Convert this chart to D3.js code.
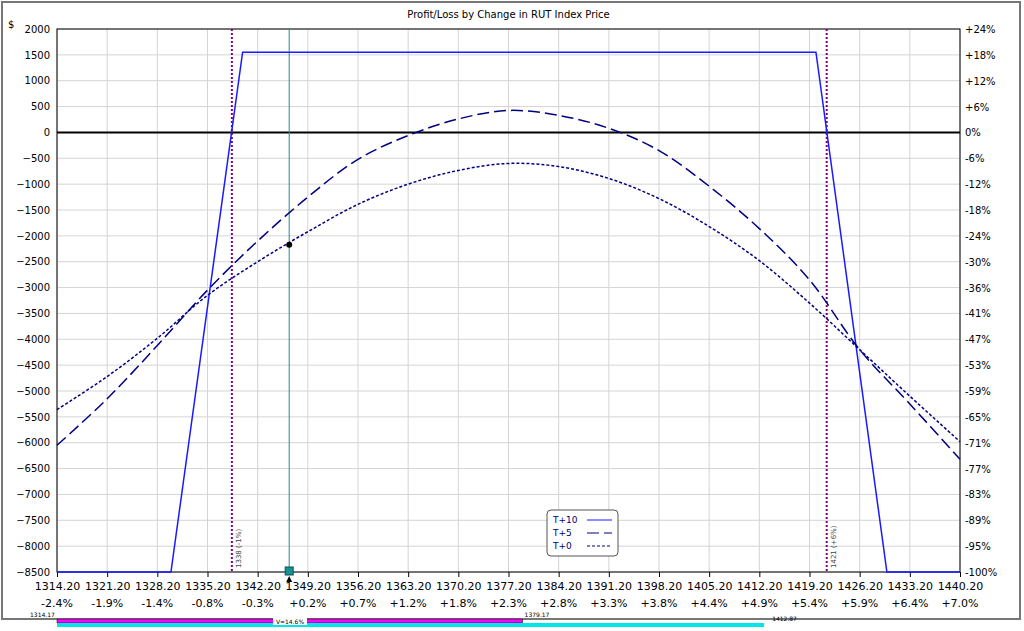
<!DOCTYPE html>
<html><head><meta charset="utf-8">
<script src="https://cdn.jsdelivr.net/npm/d3@7"></script>
<style>body{margin:0;background:#fff;font-family:Tahoma,"DejaVu Sans",sans-serif}</style>
</head><body>
<script>
// chart values
var priceTicks = d3.range(0, 19).map(function(k){ return 1314.2 + 7 * k; });
var pctLabels = ["-2.4%","-1.9%","-1.4%","-0.8%","-0.3%","+0.2%","+0.7%","+1.2%","+1.8%","+2.3%","+2.8%","+3.3%","+3.8%","+4.4%","+4.9%","+5.4%","+5.9%","+6.4%","+7.0%"];
var rightLabels = ["+24%","+18%","+12%","+6%","0%","-6%","-12%","-18%","-24%","-30%","-36%","-41%","-47%","-53%","-59%","-65%","-71%","-77%","-83%","-89%","-95%","-100%"];
var t10 = [[1314.2,-8500],[1330.1,-8500],[1340.1,1550],[1420.1,1550],[1430.0,-8500],[1440.2,-8500]];
var t5 = [-6050,-5150,-4120,-3050,-2100,-1250,-520,-60,260,425,330,80,-350,-1040,-1860,-2850,-4200,-5250,-6320];
var t0 = [-5360,-4720,-3980,-3150,-2500,-1920,-1390,-1000,-735,-600,-660,-890,-1280,-1820,-2480,-3300,-4200,-5100,-5980];
var markers = [{price:1338.6, label:"1338 (-1%)"},{price:1421.6, label:"1421 (+6%)"}];
var current = 1346.6, currentPL = -2170;

var W = 1024, H = 631, L = 57, R = 960, T = 29, B = 572;
var svg = d3.select("body").append("svg").attr("width", W).attr("height", H);
svg.append("rect").attr("x",2).attr("y",2).attr("width",W-6).attr("height",H-14).attr("fill","#fff").attr("stroke","#777").attr("stroke-width",2);

var x = d3.scaleLinear().domain([1314.2, 1440.2]).range([L, R]);
var y = d3.scaleLinear().domain([-8500, 2000]).range([B, T]);
var yTicks = d3.range(2000, -8501, -500);

// grid
svg.append("g").selectAll("line").data(priceTicks).enter().append("line")
  .attr("x1", x).attr("x2", x).attr("y1", T).attr("y2", B).attr("stroke", "#d4d4d4");
svg.append("g").selectAll("line").data(yTicks).enter().append("line")
  .attr("x1", L).attr("x2", R).attr("y1", y).attr("y2", y).attr("stroke", "#d4d4d4");
svg.append("rect").attr("x",L).attr("y",T).attr("width",R-L).attr("height",B-T).attr("fill","none").attr("stroke","#000");
svg.append("line").attr("x1",L).attr("x2",R).attr("y1",y(0)).attr("y2",y(0)).attr("stroke","#000").attr("stroke-width",2);

// axes
var ax = svg.append("g").attr("transform","translate(0,"+B+")")
  .call(d3.axisBottom(x).tickValues(priceTicks).tickFormat(d3.format(".2f")).tickSize(5));
ax.select(".domain").remove();
ax.selectAll("text").attr("font-size",11).attr("fill","#000").attr("dy","0.9em").attr("font-family","Tahoma,'DejaVu Sans',sans-serif");
svg.append("g").selectAll("text").data(pctLabels).enter().append("text")
  .attr("x", function(d,i){ return x(priceTicks[i]); }).attr("y", 607)
  .attr("text-anchor","middle").attr("font-size",11).text(function(d){ return d; });
var ay = svg.append("g").attr("transform","translate("+L+",0)")
  .call(d3.axisLeft(y).tickValues(yTicks).tickFormat(d3.format("d")).tickSize(0).tickPadding(7));
ay.select(".domain").remove();
ay.selectAll("text").attr("font-size",10).attr("fill","#000").attr("font-family","Tahoma,'DejaVu Sans',sans-serif");
svg.append("g").selectAll("text").data(rightLabels).enter().append("text")
  .attr("x", R+5).attr("y", function(d,i){ return y(yTicks[i]) + 4; })
  .attr("font-size",10).text(function(d){ return d; });
svg.append("text").attr("x",8).attr("y",28).attr("font-size",10).text("$");
svg.append("text").attr("x",(L+R)/2).attr("y",18).attr("text-anchor","middle").attr("font-size",10).text("Profit/Loss by Change in RUT Index Price");

// marker lines
markers.forEach(function(m){
  svg.append("line").attr("x1",x(m.price)).attr("x2",x(m.price)).attr("y1",T).attr("y2",B)
    .attr("stroke","#800080").attr("stroke-width",2).attr("stroke-dasharray","2,2");
  svg.append("text").attr("transform","translate("+(x(m.price)+9)+",568) rotate(-90)")
    .attr("font-size",7).attr("fill","#444").text(m.label);
});
svg.append("line").attr("x1",x(current)).attr("x2",x(current)).attr("y1",T).attr("y2",B).attr("stroke","#2a8a8a");

// curves
var line = d3.line().x(function(d){ return x(d[0]); }).y(function(d){ return y(d[1]); });
var smooth = d3.line().x(function(d,i){ return x(priceTicks[i]); }).y(function(d){ return y(d); }).curve(d3.curveCatmullRom);
svg.append("path").attr("d", line(t10)).attr("fill","none").attr("stroke","#1a1aff").attr("stroke-width",1.5);
svg.append("path").attr("d", smooth(t5)).attr("fill","none").attr("stroke","#000080").attr("stroke-width",1.5).attr("stroke-dasharray","12,5");
svg.append("path").attr("d", smooth(t0)).attr("fill","none").attr("stroke","#000080").attr("stroke-width",1.5).attr("stroke-dasharray","3,2");

svg.append("circle").attr("cx",x(current)).attr("cy",y(currentPL)).attr("r",3).attr("fill","#000");
svg.append("rect").attr("x",x(current)-4).attr("y",B-5).attr("width",8).attr("height",8).attr("fill","#1a9090").attr("stroke","#055");
svg.append("path").attr("d","M"+(x(current)-3)+","+(B+10)+"L"+x(current)+","+(B+4)+"L"+(x(current)+3)+","+(B+10)+"Z").attr("fill","#000");

// legend
var lg = svg.append("g").attr("transform","translate(547,510)");
lg.append("rect").attr("width",71).attr("height",46).attr("rx",4).attr("fill","#fff").attr("stroke","#555");
[["T+10","none"],["T+5","12,5"],["T+0","3,2"]].forEach(function(d,i){
  lg.append("text").attr("x",6).attr("y",13+i*13).attr("font-size",9).attr("fill","#000080").text(d[0]);
  lg.append("line").attr("x1",40).attr("x2",65).attr("y1",10+i*13).attr("y2",10+i*13)
    .attr("stroke", i==0 ? "#1a1aff" : "#000080").attr("stroke-dasharray",d[1]);
});

// volatility range bars
svg.append("rect").attr("x",L).attr("y",619).attr("width",x(1379.17)-L).attr("height",4).attr("fill","#ff00ff").attr("stroke","#000").attr("stroke-width",0.5);
svg.append("rect").attr("x",L).attr("y",623).attr("width",x(1412.87)-L).attr("height",4).attr("fill","#00e5e5");
svg.append("rect").attr("x",273).attr("y",617).attr("width",34).attr("height",8).attr("fill","#fff");
svg.append("text").attr("x",290).attr("y",624).attr("text-anchor","middle").attr("font-size",6).text("V=14.6%");
svg.append("text").attr("x",30).attr("y",617).attr("font-size",6).text("1314.17");
svg.append("text").attr("x",x(1379.17)+2).attr("y",617).attr("font-size",6).text("1379.17");
svg.append("text").attr("x",x(1412.87)+8).attr("y",621).attr("font-size",6).text("1412.87");
</script>
</body></html>
